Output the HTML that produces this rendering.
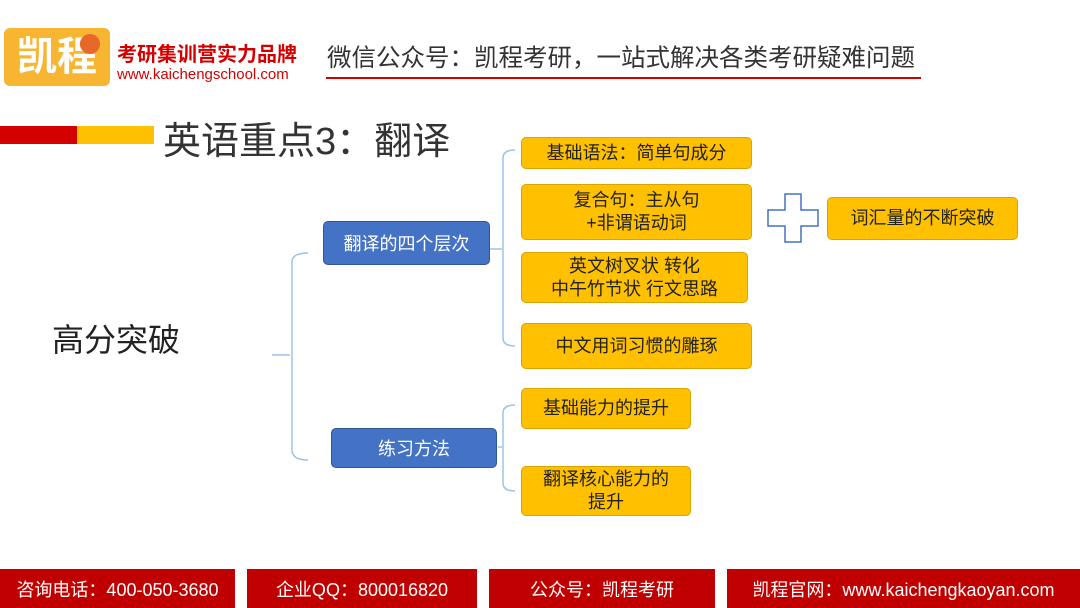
<!DOCTYPE html>
<html><head><meta charset="utf-8"><style>
body{margin:0;width:1080px;height:608px;background:#fff;position:relative;overflow:hidden;font-family:"Liberation Sans","Noto Sans CJK SC",sans-serif}
.a{position:absolute}
.y{position:absolute;background:#ffc000;border:1px solid #d9a300;border-radius:5px;color:#222;font-size:18px;text-align:center;display:flex;align-items:center;justify-content:center;line-height:23px}
.b{position:absolute;background:#4472c4;border:1px solid #2f5597;border-radius:5px;color:#fff;font-size:18px;display:flex;align-items:center;justify-content:center}
.f{position:absolute;top:569px;height:39px;background:#c00000;color:#fff;font-size:18px;display:flex;align-items:center;justify-content:center}
</style></head><body>
<div class="a" style="left:4px;top:28px;width:106px;height:58px;background:#f7b531;border-radius:6px;color:#fff;font-size:40px;font-weight:bold;text-align:center;line-height:58px">凯程</div>
<div class="a" style="left:80px;top:34px;width:20px;height:20px;border-radius:50%;background:#e8672a"></div>
<div class="a" style="left:117px;top:38px;color:#d40000;font-size:20px;font-weight:bold">考研集训营实力品牌</div>
<div class="a" style="left:117px;top:66px;color:#d40000;font-size:15px">www.kaichengschool.com</div>
<div class="a" style="left:327px;top:39px;color:#333;font-size:24.5px">微信公众号：凯程考研，一站式解决各类考研疑难问题</div>
<div class="a" style="left:326px;top:77px;width:595px;height:2px;background:#d40000"></div>
<div class="a" style="left:0;top:126px;width:77px;height:18px;background:#d40000"></div>
<div class="a" style="left:77px;top:126px;width:77px;height:18px;background:#ffc000"></div>
<div class="a" style="left:163px;top:110px;color:#333;font-size:38px">英语重点3：翻译</div>
<div class="a" style="left:52px;top:315px;color:#222;font-size:32px">高分突破</div>
<svg class="a" style="left:0;top:0" width="1080" height="608" fill="none" stroke="#9dc3e6" stroke-width="1.5">
<path d="M272 355 H290 M308 253 Q292 253 292 262 V450 Q292 460 308 460"/>
<path d="M490 249 H502 M515 150 Q503 150 503 158 V338 Q503 346 515 346"/>
<path d="M498 447 H502 M515 405 Q503 405 503 413 V483 Q503 491 515 491"/>
<path stroke="#4472c4" d="M785 194 H801 V210 H818 V226 H801 V242 H785 V226 H768 V210 H785 Z"/>
</svg>
<div class="b" style="left:323px;top:221px;width:165px;height:42px">翻译的四个层次</div>
<div class="b" style="left:331px;top:428px;width:164px;height:38px">练习方法</div>
<div class="y" style="left:521px;top:137px;width:229px;height:30px">基础语法：简单句成分</div>
<div class="y" style="left:521px;top:184px;width:229px;height:54px">复合句：主从句<br>+非谓语动词</div>
<div class="y" style="left:521px;top:252px;width:225px;height:49px">英文树叉状 转化<br>中午竹节状 行文思路</div>
<div class="y" style="left:521px;top:323px;width:229px;height:44px">中文用词习惯的雕琢</div>
<div class="y" style="left:827px;top:197px;width:189px;height:41px">词汇量的不断突破</div>
<div class="y" style="left:521px;top:388px;width:168px;height:39px">基础能力的提升</div>
<div class="y" style="left:521px;top:466px;width:168px;height:48px">翻译核心能力的<br>提升</div>
<div class="f" style="left:0;width:235px">咨询电话：400-050-3680</div>
<div class="f" style="left:247px;width:230px">企业QQ：800016820</div>
<div class="f" style="left:489px;width:226px">公众号：凯程考研</div>
<div class="f" style="left:727px;width:353px">凯程官网：www.kaichengkaoyan.com</div>
</body></html>
